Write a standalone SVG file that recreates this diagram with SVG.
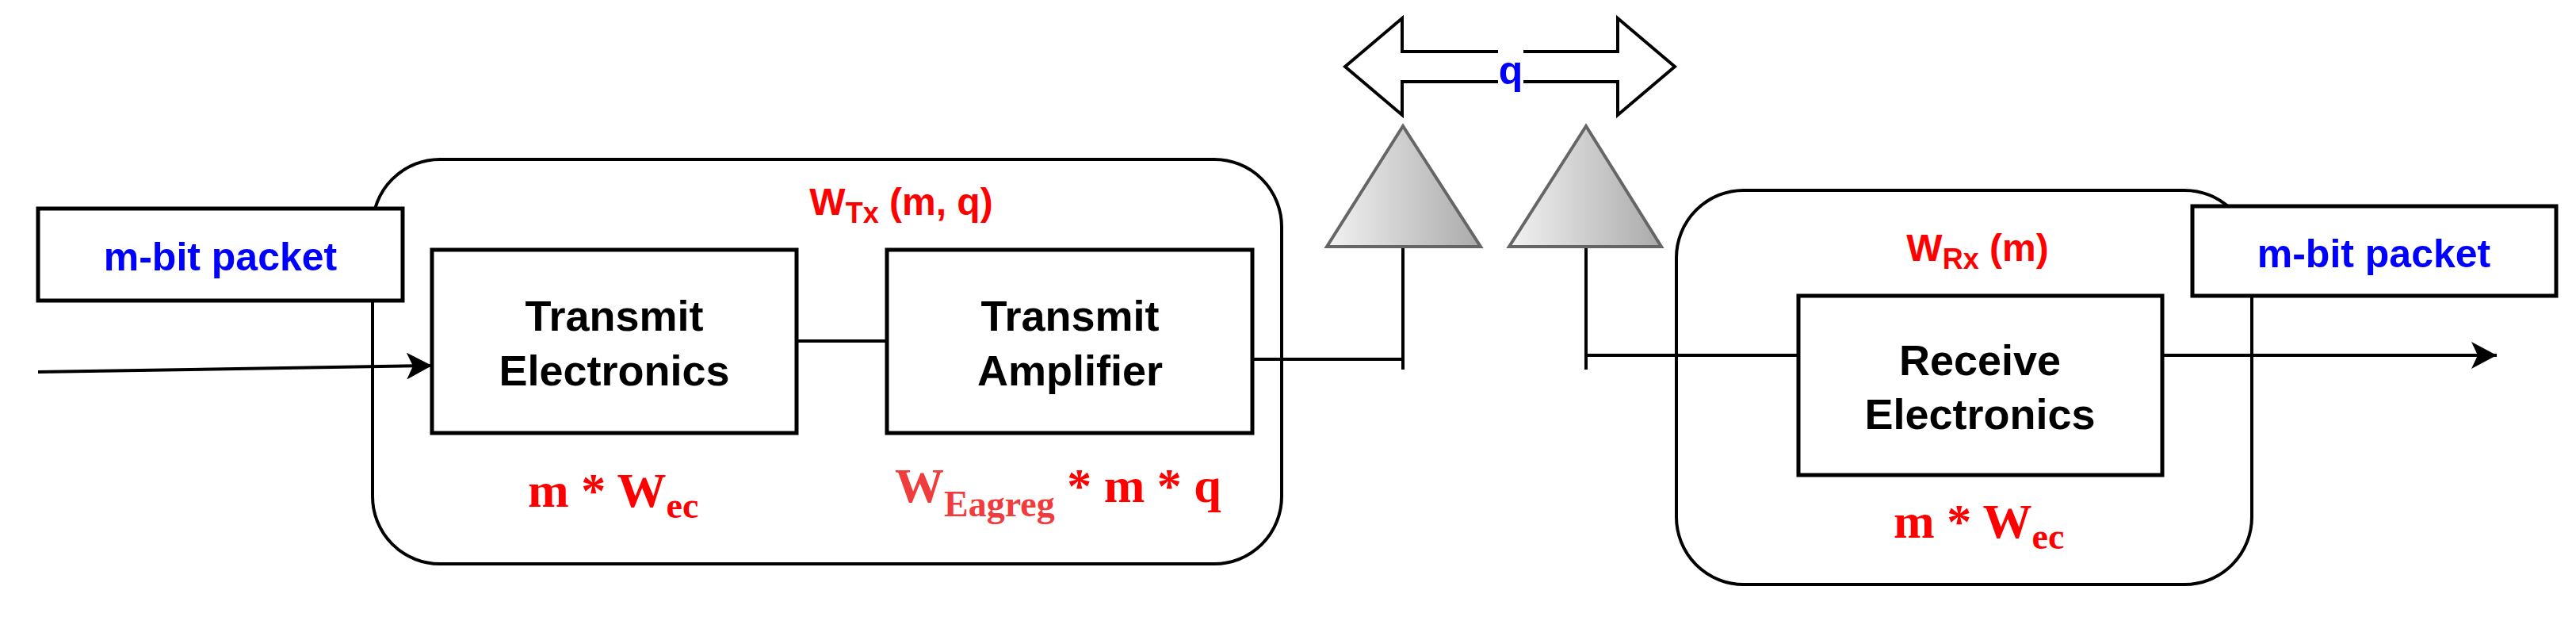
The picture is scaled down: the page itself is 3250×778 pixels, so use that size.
<svg xmlns="http://www.w3.org/2000/svg" width="3250" height="778" viewBox="0 0 3250 778">
<style>
.box{fill:#fff;stroke:#000;stroke-width:5}
.rbox{fill:#fff;stroke:#000;stroke-width:4}
.ln{fill:none;stroke:#000;stroke-width:4}
.ant{fill:url(#g);stroke:#666;stroke-width:4}
.t{font-family:"Liberation Sans",Arial,sans-serif;font-weight:bold;font-size:54px;text-anchor:middle}
.blue{fill:#0000ff;font-size:50px}
.red{fill:#ff0000;font-size:48px}
.s{font-family:"Liberation Serif","Times New Roman",serif;font-weight:bold;font-size:62px;fill:#ff0000}
</style>
<defs>
<linearGradient id="g" x1="0" x2="1" y1="0" y2="0"><stop offset="0" stop-color="#f2f2f2"/><stop offset="1" stop-color="#aaa"/></linearGradient>
<marker id="ah2" markerWidth="34" markerHeight="34" refX="32" refY="17" orient="auto" markerUnits="userSpaceOnUse"><path d="M0,0 L32,17 L0,34 L8,17 Z" fill="#000"/></marker>
</defs>
<g id="tx"><rect class="rbox" x="470" y="201" width="1147" height="510" rx="85"/>
<text class="t red" x="1137" y="271">W<tspan font-size="36" dy="10">Tx</tspan><tspan dy="-10"> (m, q)</tspan></text></g>
<g id="rx"><rect class="rbox" x="2115" y="240" width="726" height="497" rx="85"/>
<text class="t red" x="2495" y="329">W<tspan font-size="36" dy="10">Rx</tspan><tspan dy="-10"> (m)</tspan></text></g>
<g id="connectors">
<line class="ln" x1="48" y1="469" x2="545" y2="461" marker-end="url(#ah2)"/>
<line class="ln" x1="1005" y1="430" x2="1119" y2="430"/>
<polyline class="ln" points="1580,453 1770,453"/>
<line class="ln" x1="1770" y1="311" x2="1770" y2="466" stroke-width="3"/>
<line class="ln" x1="2001" y1="311" x2="2001" y2="466" stroke-width="3"/>
<line class="ln" x1="2001" y1="448" x2="2269" y2="448"/>
<line class="ln" x1="2728" y1="448" x2="3150" y2="448" marker-end="url(#ah2)"/>
</g>
<g id="inpkt"><rect class="box" x="48" y="263" width="460" height="116"/><text class="t blue" x="278" y="341">m-bit packet</text></g>
<g id="outpkt"><rect class="box" x="2766" y="260" width="459" height="113"/><text class="t blue" x="2995" y="337">m-bit packet</text></g>
<g id="te"><rect class="box" x="545" y="315" width="460" height="231"/><text class="t" x="775" y="417">Transmit</text><text class="t" x="775" y="486">Electronics</text></g>
<g id="ta"><rect class="box" x="1119" y="315" width="461" height="231"/><text class="t" x="1350" y="417">Transmit</text><text class="t" x="1350" y="486">Amplifier</text></g>
<g id="re"><rect class="box" x="2269" y="373" width="459" height="226"/><text class="t" x="2498" y="473">Receive</text><text class="t" x="2498" y="541">Electronics</text></g>
<g id="ant1"><polygon class="ant" points="1770,159 1674,311 1868,311"/></g>
<g id="ant2"><polygon class="ant" points="2001,159 1904,311 2096,311"/></g>
<g id="q"><polygon fill="#fff" stroke="#000" stroke-width="4" points="1697,84 1769,23 1769,65 2041,65 2041,23 2113,84 2041,145 2041,103 1769,103 1769,145"/>
<rect x="1890" y="60" width="32" height="50" fill="#fff"/>
<text class="t blue" x="1906" y="106">q</text></g>
<g id="lbl1"><text class="s" x="666" y="639">m * W<tspan font-size="46" dy="14">ec</tspan></text></g>
<g id="lbl2"><text class="s" x="1129" y="633"><tspan fill="#f03c3c">W<tspan font-size="46" dy="18">Eagreg</tspan></tspan><tspan dy="-18"> * m * q</tspan></text></g>
<g id="lbl3"><text class="s" x="2389" y="678">m * W<tspan font-size="46" dy="14">ec</tspan></text></g>
</svg>
